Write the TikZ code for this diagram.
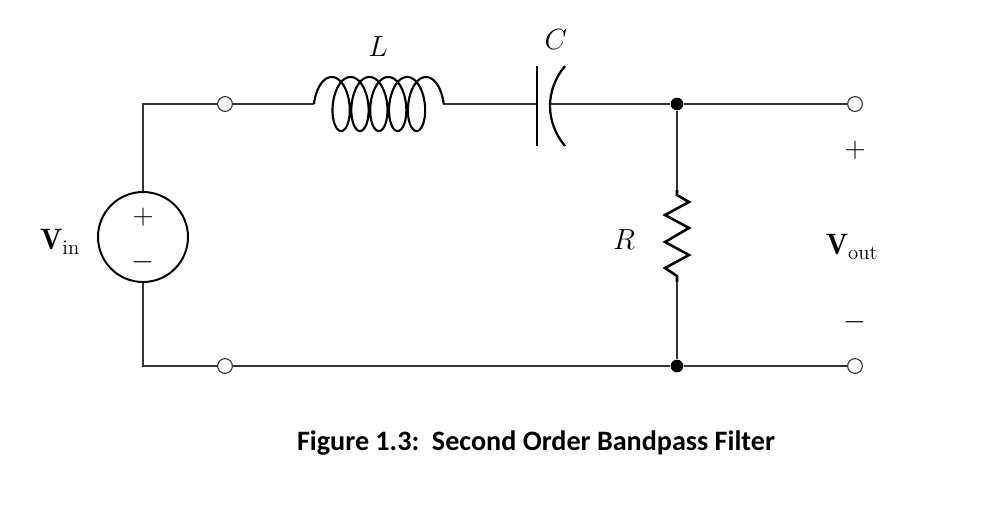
\documentclass[tikz,border=0pt]{standalone}
\usepackage{fontspec}
\newfontfamily\capfont{Carlito}
\usetikzlibrary{positioning,calc}
\tikzset{
   wire/.style = {draw=black!80, line width=0.9pt},
   term/.style = {circle, draw=black!80, fill=white, line width=0.8pt, inner sep=0pt, minimum size=10.5pt},
   dot/.style = {circle, fill=black, inner sep=0pt, minimum size=9pt},
   lbl/.style = {font=\fontsize{21}{21}\selectfont},
    }
\begin{document}
\begin{tikzpicture}[x=0.025cm, y=-0.025cm]
    \useasboundingbox (0,0) rectangle (994,514);
    % corners and junctions
    \coordinate (tl) at (143,104);
    \coordinate (bl) at (143,366);
    \node[circle, draw, line width=1.4pt, minimum size=90*0.025cm, inner sep=0pt] (src) at (143,237) {};
    \node[lbl] at (143,217) {$+$};
    \node[lbl] at (143,262) {$-$};
    \node[term] (a1) at (225,104) {};
    \node[term] (a2) at (225,366) {};
    \node[term] (o1) at (855,104) {};
    \node[term] (o2) at (855,366) {};
    \node[dot] (j1) at (677,104) {};
    \node[dot] (j2) at (677,366) {};
    \coordinate (l1) at (314,104);
    \coordinate (l2) at (443,104);
    \coordinate (c1) at (537,104);
    \coordinate (c2) at (549,104);
    \coordinate (r1) at (677,190);
    \coordinate (r2) at (677,282);
    % wires
    \draw[wire] (src.north) -- (tl) -- (a1) -- (l1);
    \draw[wire] (src.south) -- (bl) -- (a2) -- (j2) -- (o2);
    \draw[wire] (l2) -- (c1);
    \draw[wire] (c2) -- (j1) -- (o1);
    \draw[wire] (j1) -- (r1);
    \draw[wire] (r2) -- (j2);
    % inductor
    \draw[line width=1.5pt] plot[domain=0:1980, samples=500, smooth]
        ({314+3.0*rad(\x)+13-13*cos(\x)}, {104-27*sin(\x)});
    % capacitor
    \draw[line width=1.6pt] (537,66) -- (537,146);
    \draw[line width=1.6pt] (565,66) .. controls (545,90) and (545,122) .. (565,146);
    % resistor
    \draw[line width=1.8pt] (r1) -- (677,195) -- (689,202) -- (665,215) -- (689,228)
        -- (665,242) -- (689,255) -- (665,268) -- (677,276) -- (r2);
    % labels
    \node[lbl] at (378,47) {$L$};
    \node[lbl] at (556,40) {$C$};
    \node[lbl] at (624,240) {$R$};
    \node[lbl] at (60,242) {$\mathbf{V}_{\mathrm{in}}$};
    \node[lbl] at (852,247) {$\mathbf{V}_{\mathrm{out}}$};
    \node[lbl] at (855,150) {$+$};
    \node[lbl] at (855,322) {$-$};
    \node[font=\capfont\bfseries\fontsize{20}{20}\selectfont] at (536,443)
        {Figure 1.3:\ \ Second Order Bandpass Filter};
\end{tikzpicture}
\end{document}
